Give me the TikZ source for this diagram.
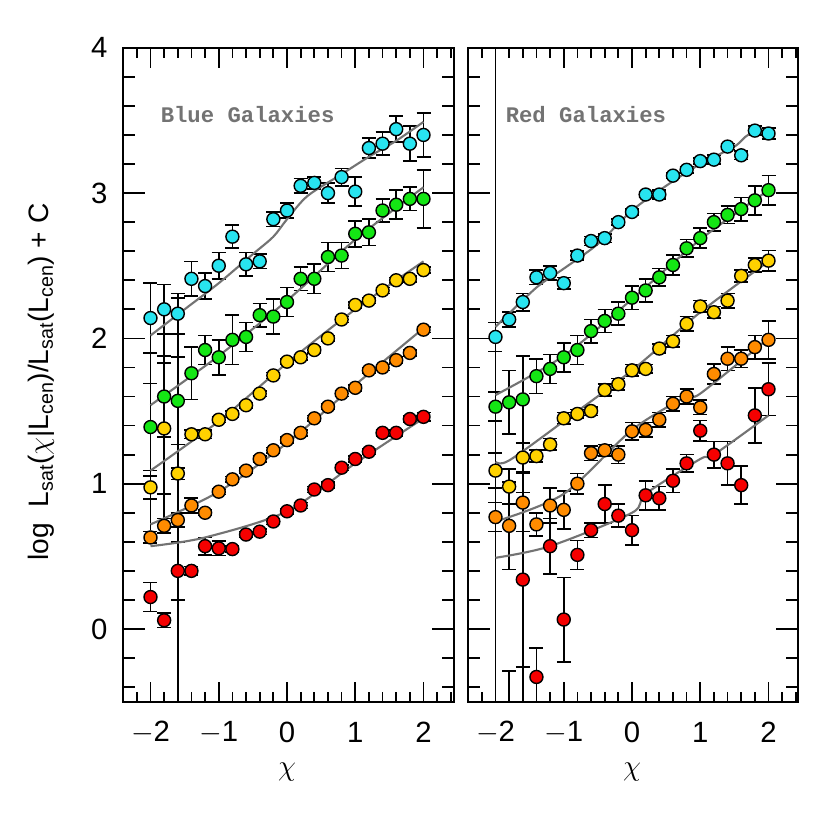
\documentclass[tikz,border=0pt]{standalone}
\usepackage{fontspec}
\setmainfont{Liberation Sans}
\newfontfamily\labfont{Liberation Mono}
\definecolor{ccyan}{RGB}{40,228,240}
\definecolor{cgreen}{RGB}{20,230,20}
\definecolor{cyel}{RGB}{255,210,0}
\definecolor{corange}{RGB}{255,140,0}
\definecolor{cred}{RGB}{245,0,0}
\definecolor{cgray}{RGB}{115,115,115}
\tikzset{
 pt/.style={circle,draw=black,line width=1.2pt,inner sep=0pt,minimum size=0.39cm},
 ebar/.style={black,line width=1.4pt},
 model/.style={cgray,line width=1.8pt},
 frame/.style={black,line width=1.7pt},
 tk/.style={black,line width=1.5pt},
 ticklab/.style={font=\fontsize{25}{25}\selectfont},
 gal/.style={cgray,font=\labfont\bfseries\fontsize{19}{19}\selectfont,anchor=west}
}
\newcommand\ser[1]{%
 \foreach \x/\y/\e in #1{
  \draw[ebar] (\x,\y-\e) -- (\x,\y+\e);
  \draw[ebar] ([xshift=-0.21cm]\x,\y+\e) -- ([xshift=0.21cm]\x,\y+\e);
  \draw[ebar] ([xshift=-0.21cm]\x,\y-\e) -- ([xshift=0.21cm]\x,\y-\e);
 }}
\newcommand\pts[2]{\foreach \x/\y/\e in #2{\node[pt,fill=#1] at (\x,\y) {};}}
\newcommand\frm{%
 \foreach \v in {-2,...,2}{
  \draw[tk] (\v,-0.5) -- ++(0,0.6cm); \draw[tk] (\v,4) -- ++(0,-0.6cm);}
 \foreach \v in {-2.4,-2.2,...,2.45}{
  \draw[tk] (\v,-0.5) -- ++(0,0.3cm); \draw[tk] (\v,4) -- ++(0,-0.3cm);}
 \foreach \v in {0,...,4}{
  \draw[tk] (\xl,\v) -- ++(0.66cm,0); \draw[tk] (\xr,\v) -- ++(-0.66cm,0);}
 \foreach \v in {-0.4,-0.2,...,3.9}{
  \draw[tk] (\xl,\v) -- ++(0.36cm,0); \draw[tk] (\xr,\v) -- ++(-0.36cm,0);}
 \draw[frame] (\xl,-0.5) rectangle (\xr,4);
 \foreach \v/\t in {-2/$-$2,-1/$-$1,0/0,1/1,2/2}{\node[ticklab] at (\v,-0.5) [yshift=-0.93cm] {\t};}
 \node[font=\fontsize{27}{27}\selectfont] at (0,-0.5) [yshift=-2.1cm] {$\chi$};
}
\begin{document}
\begin{tikzpicture}[x=0.03cm,y=-0.03cm]
\useasboundingbox (0,0) rectangle (830,817);
\fill[white] (0,0) rectangle (830,817);
% ---------- left panel
\begin{scope}[shift={(287,629)},x={(2.0475cm,0)},y={(0,4.359cm)}]
\def\xl{-2.4}\def\xr{2.45}
\begin{scope}
\clip (\xl,-0.5) rectangle (\xr,4);
\draw[ebar] (-2,0.68) -- (-2,2.38);
\draw[ebar] (-1.8,0.68) -- (-1.8,2.37);
\draw[ebar] (-1.6,-0.6) -- (-1.6,2.28);
\draw[ebar] ([xshift=-0.21cm]-1.6,2.28) -- ([xshift=0.21cm]-1.6,2.28);
\def\cy{-2/2.14/0.24,-1.8/2.2/0.17,-1.6/2.17/0.14,-1.4/2.41/0.12,-1.2/2.36/0.09,-1.0/2.5/0.09,-0.8/2.7/0.08,-0.6/2.51/0.08,-0.4/2.53/0.05,-0.2/2.82/0.05,0/2.88/0.05,0.2/3.05/0.05,0.4/3.07/0.04,0.6/3.0/0.07,0.8/3.11/0.06,1.0/3.01/0.1,1.2/3.31/0.07,1.4/3.34/0.08,1.6/3.44/0.09,1.8/3.34/0.12,2.0/3.4/0.15}
\def\gr{-2/1.39/0.3,-1.8/1.6/0.28,-1.6/1.57/0.3,-1.4/1.76/0.18,-1.2/1.92/0.1,-1.0/1.87/0.12,-0.8/1.99/0.17,-0.6/2.01/0.1,-0.4/2.16/0.08,-0.2/2.15/0.12,0/2.25/0.1,0.2/2.41/0.08,0.4/2.41/0.1,0.6/2.56/0.1,0.8/2.57/0.09,1.0/2.72/0.09,1.2/2.73/0.09,1.4/2.88/0.08,1.6/2.92/0.1,1.8/2.96/0.08,2.0/2.96/0.2}
\def\ye{-2/0.975/0.08,-1.8/1.38/0.45,-1.6/1.07/0.04,-1.4/1.34/0.03,-1.2/1.34/0.03,-1.0/1.44/0.02,-0.8/1.48/0.02,-0.6/1.54/0.02,-0.4/1.62/0.02,-0.2/1.745/0.02,0/1.84/0.02,0.2/1.87/0.02,0.4/1.92/0.02,0.6/2.0/0.02,0.8/2.13/0.02,1.0/2.23/0.02,1.2/2.26/0.02,1.4/2.33/0.02,1.6/2.40/0.02,1.8/2.41/0.02,2.0/2.47/0.02}
\def\orr{-2/0.63/0.04,-1.8/0.71/0.05,-1.6/0.75/0.05,-1.4/0.85/0.05,-1.2/0.80/0.02,-1.0/0.945/0.02,-0.8/1.03/0.02,-0.6/1.09/0.02,-0.4/1.17/0.02,-0.2/1.23/0.02,0/1.30/0.02,0.2/1.35/0.02,0.4/1.45/0.02,0.6/1.53/0.02,0.8/1.62/0.02,1.0/1.66/0.02,1.2/1.78/0.02,1.4/1.80/0.02,1.6/1.85/0.02,1.8/1.90/0.02,2.0/2.06/0.02}
\def\re{-2/0.22/0.1,-1.8/0.06/0.05,-1.6/0.40/0.2,-1.4/0.40/0.03,-1.2/0.57/0.06,-1.0/0.555/0.05,-0.8/0.55/0.02,-0.6/0.65/0.02,-0.4/0.67/0.02,-0.2/0.74/0.02,0/0.81/0.02,0.2/0.85/0.02,0.4/0.96/0.02,0.6/0.99/0.02,0.8/1.11/0.02,1.0/1.17/0.02,1.2/1.22/0.02,1.4/1.35/0.02,1.6/1.35/0.02,1.8/1.445/0.02,2.0/1.46/0.03}
\ser\cy\ser\gr\ser\ye\ser\orr\ser\re
\draw[model] plot[smooth] coordinates {(-2,2.02)(-1.5,2.2)(-1,2.38)(-0.5,2.58)(-0.2,2.7)(0,2.82)(0.3,2.98)(0.8,3.13)(1.2,3.25)(1.6,3.36)(2,3.49)};
\draw[model] plot[smooth] coordinates {(-2,1.54)(-1,1.88)(0,2.26)(1,2.68)(2,3.04)};
\draw[model] plot[smooth] coordinates {(-2,1.09)(-1,1.43)(0,1.83)(1,2.2)(2,2.53)};
\draw[model] plot[smooth] coordinates {(-2,0.72)(-1,0.945)(0,1.28)(1,1.68)(2,2.07)};
\draw[model] plot[smooth] coordinates {(-2,0.57)(-1.2,0.63)(0,0.81)(1,1.14)(2,1.45)};
\pts{ccyan}\cy\pts{cgreen}\gr\pts{cyel}\ye\pts{corange}\orr\pts{cred}\re
\end{scope}
\frm
\foreach \v in {0,...,4}{\node[ticklab,anchor=east] at (\xl,\v) [xshift=-0.35cm] {\v};}
\node[gal] at (-1.91,3.54) {Blue Galaxies};
\node[rotate=90,font=\fontsize{24}{24}\selectfont] at (-3.6,1.7) {log\; L$_{\mathrm{sat}}$($\chi$|L$_{\mathrm{cen}}$)/L$_{\mathrm{sat}}$(L$_{\mathrm{cen}}$) + C};
\end{scope}
% ---------- right panel
\begin{scope}[shift={(632,629)},x={(2.0475cm,0)},y={(0,4.359cm)}]
\def\xl{-2.41}\def\xr{2.43}
\begin{scope}
\clip (\xl,-0.5) rectangle (\xr,4);
\draw[ebar] (-2,-0.6) -- (-2,4.1);
\draw[ebar] (-1.8,-0.6) -- (-1.8,-0.29);
\draw[ebar] ([xshift=-0.21cm]-1.8,-0.29) -- ([xshift=0.21cm]-1.8,-0.29);
\draw[ebar] (-1.6,-0.6) -- (-1.6,0.94);
\def\cy{-2/2.01/0.1,-1.8/2.13/0.05,-1.6/2.25/0.06,-1.4/2.42/0.05,-1.2/2.45/0.05,-1.0/2.38/0.04,-0.8/2.57/0.03,-0.6/2.67/0.03,-0.4/2.69/0.03,-0.2/2.80/0.02,0/2.87/0.02,0.2/2.99/0.02,0.4/2.99/0.03,0.6/3.12/0.02,0.8/3.16/0.02,1.0/3.22/0.02,1.2/3.23/0.03,1.4/3.32/0.02,1.6/3.26/0.03,1.8/3.43/0.03,2.0/3.41/0.04}
\def\gr{-2/1.53/0.1,-1.8/1.56/0.22,-1.6/1.58/0.3,-1.4/1.74/0.12,-1.2/1.79/0.1,-1.0/1.87/0.1,-0.8/1.92/0.1,-0.6/2.05/0.08,-0.4/2.12/0.08,-0.2/2.17/0.08,0/2.28/0.08,0.2/2.33/0.08,0.4/2.42/0.06,0.6/2.505/0.07,0.8/2.62/0.06,1.0/2.69/0.07,1.2/2.80/0.06,1.4/2.85/0.06,1.6/2.89/0.08,1.8/2.95/0.1,2.0/3.02/0.1}
\def\ye{-2/1.09/0.12,-1.8/0.98/0.12,-1.6/1.18/0.1,-1.4/1.19/0.04,-1.2/1.27/0.04,-1.0/1.45/0.04,-0.8/1.48/0.03,-0.6/1.50/0.03,-0.4/1.645/0.04,-0.2/1.685/0.04,0/1.78/0.04,0.2/1.79/0.03,0.4/1.93/0.03,0.6/1.98/0.04,0.8/2.10/0.05,1.0/2.22/0.04,1.2/2.18/0.04,1.4/2.26/0.05,1.6/2.43/0.04,1.8/2.505/0.05,2.0/2.535/0.07}
\def\orr{-2/0.77/0.1,-1.8/0.71/0.3,-1.6/0.87/0.2,-1.4/0.72/0.08,-1.2/0.85/0.12,-1.0/0.82/0.13,-0.8/1.0/0.07,-0.6/1.21/0.05,-0.4/1.23/0.04,-0.2/1.20/0.06,0/1.36/0.06,0.2/1.37/0.05,0.4/1.44/0.05,0.6/1.55/0.05,0.8/1.60/0.05,1.0/1.525/0.05,1.2/1.755/0.07,1.4/1.86/0.08,1.6/1.86/0.06,1.8/1.94/0.08,2.0/1.99/0.13}
\def\re{-1.6/0.34/0.6,-1.4/-0.33/0.2,-1.2/0.57/0.19,-1.0/0.065/0.29,-0.8/0.51/0.1,-0.6/0.68/0.05,-0.4/0.86/0.13,-0.2/0.78/0.08,0/0.68/0.1,0.2/0.92/0.1,0.4/0.90/0.08,0.6/1.02/0.08,0.8/1.14/0.06,1.0/1.365/0.07,1.2/1.20/0.09,1.4/1.14/0.15,1.6/0.99/0.13,1.8/1.47/0.19,2.0/1.65/0.18}
\ser\cy\ser\gr\ser\ye\ser\orr\ser\re
\draw[model] plot[smooth] coordinates {(-2,2.08)(-1.4,2.35)(-1,2.48)(-0.5,2.65)(0,2.88)(0.5,3.05)(1,3.2)(1.5,3.32)(1.7,3.4)(2,3.44)};
\draw[model] plot[smooth] coordinates {(-2,1.61)(-1,1.88)(0,2.27)(1,2.68)(2,3.02)};
\draw[model] plot[smooth] coordinates {(-2,1.15)(-1.8,1.16)(-1,1.43)(0,1.78)(1,2.18)(2,2.53)};
\draw[model] plot[smooth] coordinates {(-2,0.74)(-1,0.93)(0,1.37)(0.8,1.6)(1,1.62)(2,2.0)};
\draw[model] plot[smooth] coordinates {(-2,0.49)(-1.2,0.57)(0,0.8)(0.2,0.93)(1,1.17)(1.2,1.2)(2,1.47)};
\pts{ccyan}\cy\pts{cgreen}\gr\pts{cyel}\ye\pts{corange}\orr\pts{cred}\re
\end{scope}
\frm
\node[gal] at (-1.91,3.54) {Red Galaxies};
\end{scope}
\end{tikzpicture}
\end{document}
